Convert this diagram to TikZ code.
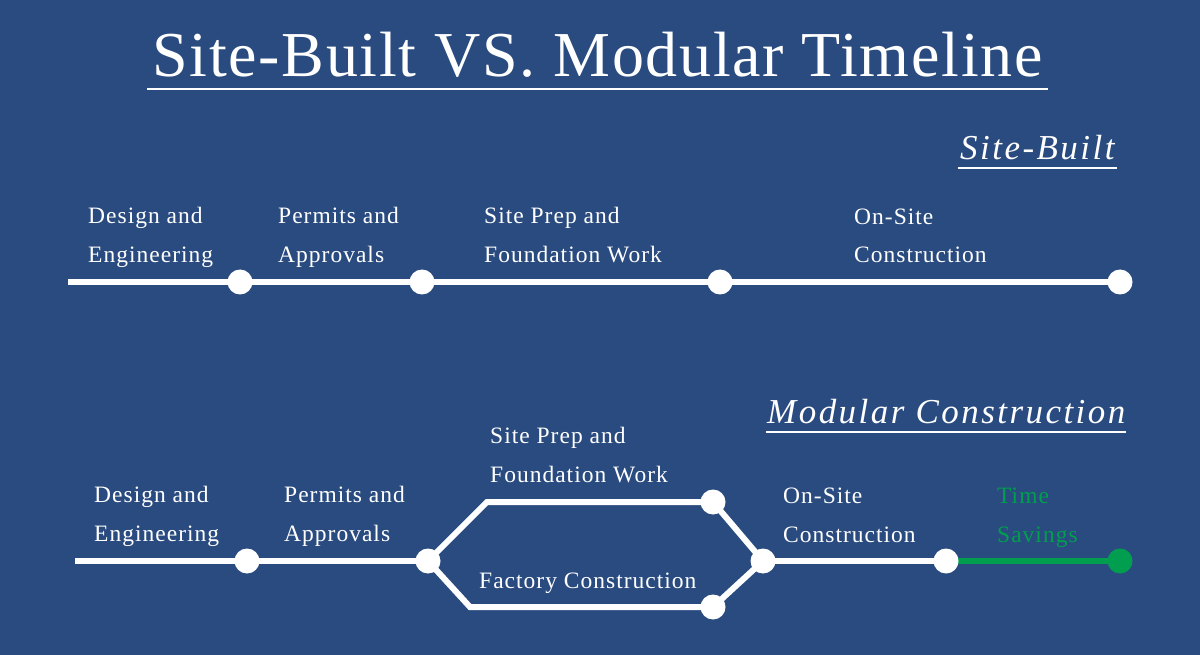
\documentclass[tikz,border=0pt]{standalone}
\usepackage{fontspec}
\setmainfont{Liberation Serif}
\newfontfamily\lblfont[LetterSpace=4.3]{Liberation Serif}
\newfontfamily\ttlfont[LetterSpace=2.7]{Liberation Serif}
\newfontfamily\subfont[LetterSpace=7]{Liberation Serif}
\definecolor{bgblue}{HTML}{2A4B7F}
\definecolor{tgreen}{RGB}{0,158,78}
\begin{document}
\begin{tikzpicture}[x=1pt,y=-1pt,
  lbl/.style={text=white, font={\lblfont\fontsize{23.5pt}{39pt}\selectfont}, align=left, anchor=base west, inner sep=0pt},
  ttl/.style={text=white, font={\ttlfont\fontsize{64pt}{70pt}\selectfont}, anchor=base west, inner sep=0pt},
  sub/.style={text=white, font={\subfont\itshape\fontsize{35pt}{40pt}\selectfont}, anchor=base west, inner sep=0pt},
  uline/.style={white, line width=2.5pt},
  dot/.style={circle, fill=white, minimum size=25pt, inner sep=0pt},
  gdot/.style={dot, fill=tgreen},
  track/.style={white, line width=6pt},
  gtrack/.style={tgreen, line width=6pt}]
\fill[bgblue] (0,0) rectangle (1200,655);
\useasboundingbox (0,0) rectangle (1200,655);

% title
\node[ttl] (title) at (152,77) {Site-Built VS. Modular Timeline};
\coordinate (tu1) at (147,89); \coordinate (tu2) at (1048,89);
\draw[uline] (tu1) -- (tu2);

% site-built
\node[sub] (sbt) at (960,160) {Site-Built};
\coordinate (su1) at (958,168); \coordinate (su2) at (1117,168);
\draw[uline,line width=2pt] (su1) -- (su2);

\coordinate (t0) at (68,282);
\coordinate (t1) at (240,282);
\coordinate (t2) at (422,282);
\coordinate (t3) at (720,282);
\coordinate (t4) at (1120,282);
\draw[track] (t0) -- (t1) -- (t2) -- (t3) -- (t4);
\node[dot] (d1) at (t1) {};
\node[dot] (d2) at (t2) {};
\node[dot] (d3) at (t3) {};
\node[dot] (d4) at (t4) {};

\node[lbl] (la1) at (88,262) {Design and\\Engineering};
\node[lbl] (la2) at (278,262) {Permits and\\Approvals};
\node[lbl] (la3) at (484,262) {Site Prep and\\Foundation Work};
\node[lbl] (la4) at (854,263) {On-Site\\Construction};

% modular
\node[sub] (mct) at (767,423) {Modular Construction};
\coordinate (mu1) at (766,432); \coordinate (mu2) at (1126,432);
\draw[uline,line width=2pt] (mu1) -- (mu2);

\coordinate (b0) at (75,561);
\coordinate (b1) at (247,561);
\coordinate (b2) at (428,561);
\coordinate (c1) at (487,502);
\coordinate (c2) at (470,607);
\coordinate (b3) at (713,502);
\coordinate (b4) at (713,607);
\coordinate (b5) at (763,561);
\coordinate (b6) at (946,561);
\coordinate (b7) at (1120,561);
\draw[track] (b0) -- (b1) -- (b2);
\draw[track] (b2) -- (c1) -- (b3) -- (b5);
\draw[track] (b2) -- (c2) -- (b4) -- (b5);
\draw[track] (b5) -- (b6);
\draw[gtrack] (b6) -- (b7);
\node[dot] (e1) at (b1) {};
\node[dot] (e2) at (b2) {};
\node[dot] (e3) at (b3) {};
\node[dot] (e4) at (b4) {};
\node[dot] (e5) at (b5) {};
\node[dot] (e6) at (b6) {};
\node[gdot] (e7) at (b7) {};

\node[lbl] (lb1) at (94,541) {Design and\\Engineering};
\node[lbl] (lb2) at (284,541) {Permits and\\Approvals};
\node[lbl] (lb3) at (490,482) {Site Prep and\\Foundation Work};
\node[lbl] (lb4) at (479,588) {Factory Construction};
\node[lbl] (lb5) at (783,542) {On-Site\\Construction};
\node[lbl,text=tgreen] (lb6) at (997,542) {Time\\Savings};
\end{tikzpicture}
\end{document}
